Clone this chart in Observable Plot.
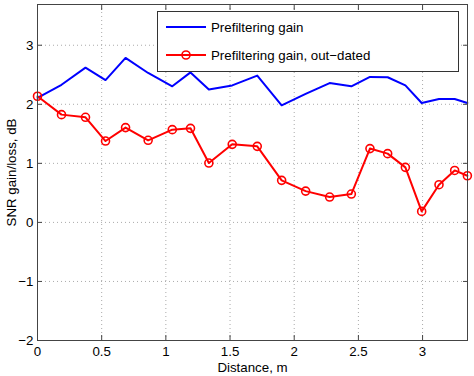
<!DOCTYPE html>
<html><head><meta charset="utf-8">
<script src="https://cdn.jsdelivr.net/npm/d3@7"></script>
<script src="https://cdn.jsdelivr.net/npm/@observablehq/plot@0.6"></script>
<style>
body{margin:0;background:#fff;}
#wrap{position:relative;width:474px;height:376px;font-family:"Liberation Sans",Arial,sans-serif;}
#legend{position:absolute;left:157px;top:11px;width:300px;height:59px;border:1px solid #333;background:#fff;}
.row{position:absolute;left:8px;height:20px;display:flex;align-items:center;font-size:13.3px;color:#000;}
.row svg{margin-right:5px;}
</style>
</head><body><div id="wrap"></div>
<script>
const distance = [0, 0.187, 0.374, 0.53, 0.686, 0.862, 1.05, 1.192, 1.335, 1.517, 1.712, 1.902, 2.089, 2.276, 2.445, 2.59, 2.728, 2.866, 2.993, 3.128, 3.25, 3.349];
const prefilteringGain = [2.11, 2.33, 2.62, 2.41, 2.785, 2.53, 2.305, 2.54, 2.25, 2.32, 2.486, 1.983, 2.175, 2.36, 2.305, 2.463, 2.458, 2.32, 2.022, 2.09, 2.09, 2.022];
const outdatedGain = [2.136, 1.825, 1.78, 1.378, 1.605, 1.39, 1.571, 1.593, 1.005, 1.322, 1.288, 0.712, 0.53, 0.429, 0.48, 1.25, 1.164, 0.932, 0.186, 0.638, 0.88, 0.79];
const xTicks = [0, 0.5, 1, 1.5, 2, 2.5, 3];
const yTicks = [-2, -1, 0, 1, 2, 3];
const seriesNames = ["Prefiltering gain", "Prefiltering gain, out\u2212dated"];
const seriesColors = ["#0000ff", "#ff0000"];

const gainData = distance.map((d, i) => ({x: d, y: prefilteringGain[i]}));
const outData = distance.map((d, i) => ({x: d, y: outdatedGain[i]}));
const fmt = d => String(d).replace("-", "\u2212");

const chart = Plot.plot({
  width: 474, height: 376,
  marginLeft: 37, marginRight: 7, marginTop: 4, marginBottom: 36,
  style: {fontFamily: '"Liberation Sans", Arial, sans-serif', fontSize: "13.3px", background: "#fff", color: "#000"},
  x: {domain: [0, 3.35]},
  y: {domain: [-2, 3.69]},
  marks: [
    Plot.gridX(xTicks.filter(d => d > 0), {stroke: "#aaa", strokeOpacity: 1, strokeDasharray: "1,3"}),
    Plot.gridY(yTicks.filter(d => d > -2), {stroke: "#aaa", strokeOpacity: 1, strokeDasharray: "1,3"}),
    Plot.axisX(xTicks, {anchor: "bottom", tickSize: -5, tickPadding: 11, stroke: "#444", tickFormat: fmt, label: "Distance, m", labelAnchor: "center", labelArrow: "none", labelOffset: 31, fill: "#000"}),
    Plot.axisX(xTicks, {anchor: "top", tickSize: -5, stroke: "#444", tickFormat: () => "", label: null}),
    Plot.axisY(yTicks, {anchor: "left", tickSize: -5, tickPadding: 9, stroke: "#444", tickFormat: fmt, label: "SNR gain/loss, dB", labelAnchor: "center", labelArrow: "none", labelOffset: 31, fill: "#000"}),
    Plot.axisY(yTicks, {anchor: "right", tickSize: -5, stroke: "#444", tickFormat: () => "", label: null}),
    Plot.line(gainData, {x: "x", y: "y", stroke: seriesColors[0], strokeWidth: 2}),
    Plot.line(outData, {x: "x", y: "y", stroke: seriesColors[1], strokeWidth: 2}),
    Plot.dot(outData, {x: "x", y: "y", stroke: seriesColors[1], strokeWidth: 1.6, r: 4, fill: "none"}),
    Plot.frame({stroke: "#444", strokeWidth: 1})
  ]
});
const wrap = document.getElementById("wrap");
wrap.appendChild(chart);

const legend = document.createElement("div");
legend.id = "legend";
seriesNames.forEach((name, i) => {
  const row = document.createElement("div");
  row.className = "row";
  row.style.top = (i === 0 ? 5 : 33) + "px";
  const ns = "http://www.w3.org/2000/svg";
  const s = document.createElementNS(ns, "svg");
  s.setAttribute("width", 40); s.setAttribute("height", 12);
  const l = document.createElementNS(ns, "line");
  l.setAttribute("x1", 0); l.setAttribute("x2", 40); l.setAttribute("y1", 6); l.setAttribute("y2", 6);
  l.setAttribute("stroke", seriesColors[i]); l.setAttribute("stroke-width", 2);
  s.appendChild(l);
  if (i === 1) {
    const c = document.createElementNS(ns, "circle");
    c.setAttribute("cx", 20); c.setAttribute("cy", 6); c.setAttribute("r", 4);
    c.setAttribute("fill", "none"); c.setAttribute("stroke", seriesColors[i]); c.setAttribute("stroke-width", 1.6);
    s.appendChild(c);
  }
  row.appendChild(s);
  const t = document.createElement("span");
  t.textContent = name;
  row.appendChild(t);
  legend.appendChild(row);
});
wrap.appendChild(legend);
</script>
</body></html>
